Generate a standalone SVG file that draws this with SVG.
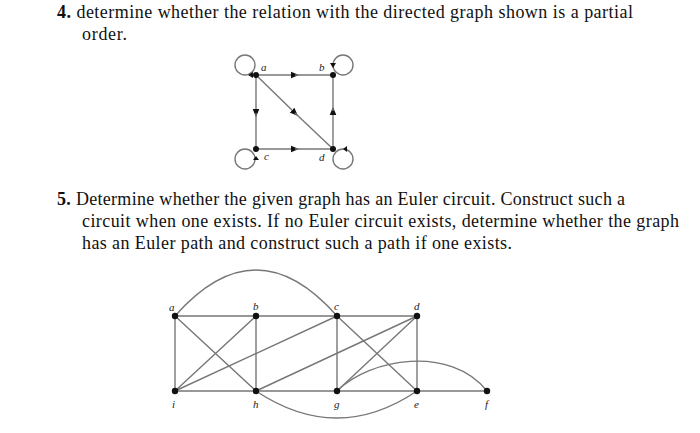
<svg xmlns="http://www.w3.org/2000/svg" width="700" height="433" viewBox="0 0 700 433">
<style>
text{font-family:'Liberation Serif','Times New Roman','DejaVu Serif',serif}
.t{font-size:18px;fill:#111}
.b{font-weight:bold}
.l{font-style:italic;font-size:11px;fill:#222}
.e{stroke:#777;stroke-width:1.4;fill:none}
.n{fill:#111}
</style>
<defs><marker id="ar" viewBox="0 0 10 10" refX="5" refY="5" markerWidth="6" markerHeight="6" orient="auto"><path d="M0,1L10,5L0,9z" fill="#111"/></marker></defs>
<rect width="700" height="433" fill="#fff"/>
<text class="t" x="57" y="18" textLength="576" lengthAdjust="spacing"><tspan class="b">4.</tspan> determine whether the relation with the directed graph shown is a partial</text>
<text class="t" x="82" y="40" textLength="45" lengthAdjust="spacing">order.</text>
<text class="t" x="57" y="205" textLength="568" lengthAdjust="spacing"><tspan class="b">5.</tspan> Determine whether the given graph has an Euler circuit. Construct such a</text>
<text class="t" x="82" y="227" textLength="597" lengthAdjust="spacing">circuit when one exists. If no Euler circuit exists, determine whether the graph</text>
<text class="t" x="82" y="249" textLength="430" lengthAdjust="spacing">has an Euler path and construct such a path if one exists.</text>
<g id="connectors1">
<path class="e" d="M256,75L295,75" marker-end="url(#ar)"/><path class="e" d="M295,75L333,75"/>
<path class="e" d="M256,75L256,113" marker-end="url(#ar)"/><path class="e" d="M256,113L256,149"/>
<path class="e" d="M256,75L295,113" marker-end="url(#ar)"/><path class="e" d="M295,113L333,149"/>
<path class="e" d="M256,149L295,149" marker-end="url(#ar)"/><path class="e" d="M295,149L333,149"/>
<path class="e" d="M333,149L333,111" marker-end="url(#ar)"/><path class="e" d="M333,111L333,75"/>
<circle class="e" cx="245" cy="65" r="10"/><circle class="e" cx="343" cy="65" r="10"/>
<circle class="e" cx="245" cy="159" r="10"/><circle class="e" cx="343" cy="159" r="10"/>
<path d="M248,75l5,-3l0,6z" class="n"/><path d="M333,68l-3,-5l6,0z" class="n"/>
<path d="M256,156l-3,4l6,0z" class="n"/><path d="M343,149l4,-3l0,6z" class="n"/>
</g>
<g id="a1"><circle class="n" cx="256" cy="75" r="3"/><text class="l" x="261" y="71">a</text></g>
<g id="b1"><circle class="n" cx="333" cy="75" r="3"/><text class="l" x="319" y="71">b</text></g>
<g id="c1"><circle class="n" cx="256" cy="149" r="3"/><text class="l" x="264" y="160">c</text></g>
<g id="d1"><circle class="n" cx="333" cy="149" r="3"/><text class="l" x="319" y="161">d</text></g>
<g id="connectors2">
<path class="e" d="M175,316L417,316M175,391L487,391M175,316L175,391M256,316L256,391M337,316L337,391M417,316L417,391"/>
<path class="e" d="M175,316L256,391M256,316L175,391M175,391L337,316M256,391L417,316M337,316L417,391M337,391L417,316"/>
<path class="e" d="M175,316Q256,224 337,316"/>
<path class="e" d="M256,391Q337,445 417,391"/>
<path class="e" d="M337,391C370,358 450,345 487,391"/>
</g>
<g id="a"><circle class="n" cx="175" cy="316" r="3.2"/><text class="l" x="169" y="311">a</text></g>
<g id="b"><circle class="n" cx="256" cy="316" r="3.2"/><text class="l" x="253" y="310">b</text></g>
<g id="c"><circle class="n" cx="337" cy="316" r="3.2"/><text class="l" x="334" y="310">c</text></g>
<g id="d"><circle class="n" cx="417" cy="316" r="3.2"/><text class="l" x="414" y="310">d</text></g>
<g id="i"><circle class="n" cx="175" cy="391" r="3.2"/><text class="l" x="172" y="408">i</text></g>
<g id="h"><circle class="n" cx="256" cy="391" r="3.2"/><text class="l" x="253" y="408">h</text></g>
<g id="g"><circle class="n" cx="337" cy="391" r="3.2"/><text class="l" x="334" y="408">g</text></g>
<g id="e"><circle class="n" cx="417" cy="391" r="3.2"/><text class="l" x="414" y="408">e</text></g>
<g id="f"><circle class="n" cx="487" cy="391" r="3.2"/><text class="l" x="485" y="408">f</text></g>
</svg>
